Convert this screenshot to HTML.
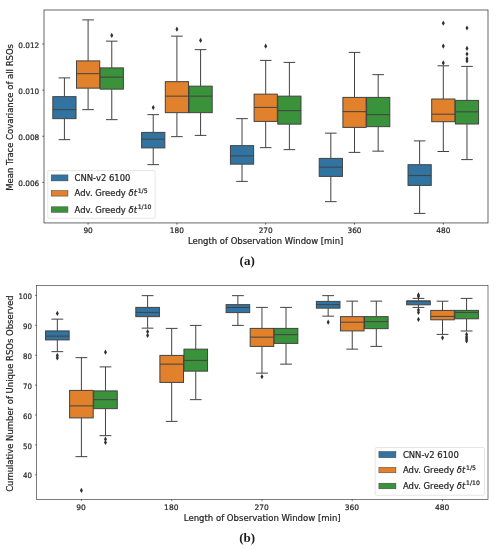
<!DOCTYPE html>
<html lang="en"><head><meta charset="utf-8"><title>Figure</title>
<style>html,body{margin:0;padding:0;background:#fff}svg{display:block}</style></head>
<body>
<svg width="499" height="550" viewBox="0 0 499 550" font-family='"DejaVu Sans", "Liberation Sans", sans-serif'>
<rect width="499" height="550" fill="#fff"/>
<rect x="44.0" y="10.0" width="444.00" height="212.95" fill="#fff" stroke="#1a1a1a" stroke-width="0.66"/>
<path d="M64.42 77.90V96.65M64.42 118.65V139.65M58.62 77.90H70.22M58.62 139.65H70.22" stroke="#424242" stroke-width="1.0" fill="none"/><rect x="52.82" y="96.65" width="23.21" height="22.00" fill="#3274a1" stroke="#424242" stroke-width="1.0"/><path d="M52.82 109.65H76.02" stroke="#424242" stroke-width="1.0"/>
<path d="M88.10 19.90V60.90M88.10 88.15V109.65M82.30 19.90H93.90M82.30 109.65H93.90" stroke="#424242" stroke-width="1.0" fill="none"/><rect x="76.50" y="60.90" width="23.21" height="27.25" fill="#e1812c" stroke="#424242" stroke-width="1.0"/><path d="M76.50 73.65H99.70" stroke="#424242" stroke-width="1.0"/>
<path d="M111.78 41.15V67.90M111.78 89.15V119.65M105.98 41.15H117.58M105.98 119.65H117.58" stroke="#424242" stroke-width="1.0" fill="none"/><rect x="100.18" y="67.90" width="23.21" height="21.25" fill="#3a923a" stroke="#424242" stroke-width="1.0"/><path d="M100.18 77.15H123.38" stroke="#424242" stroke-width="1.0"/><path d="M111.78 32.80L113.28 35.40L111.78 38.00L110.28 35.40Z" fill="#303030"/>
<path d="M153.22 114.65V132.40M153.22 147.90V164.65M147.42 114.65H159.02M147.42 164.65H159.02" stroke="#424242" stroke-width="1.0" fill="none"/><rect x="141.62" y="132.40" width="23.21" height="15.50" fill="#3274a1" stroke="#424242" stroke-width="1.0"/><path d="M141.62 139.15H164.82" stroke="#424242" stroke-width="1.0"/><path d="M153.22 105.00L154.72 107.60L153.22 110.20L151.72 107.60Z" fill="#303030"/>
<path d="M176.90 36.15V81.65M176.90 112.65V136.65M171.10 36.15H182.70M171.10 136.65H182.70" stroke="#424242" stroke-width="1.0" fill="none"/><rect x="165.30" y="81.65" width="23.21" height="31.00" fill="#e1812c" stroke="#424242" stroke-width="1.0"/><path d="M165.30 96.15H188.50" stroke="#424242" stroke-width="1.0"/><path d="M176.90 26.55L178.40 29.15L176.90 31.75L175.40 29.15Z" fill="#303030"/>
<path d="M200.58 49.65V86.15M200.58 112.65V135.40M194.78 49.65H206.38M194.78 135.40H206.38" stroke="#424242" stroke-width="1.0" fill="none"/><rect x="188.98" y="86.15" width="23.21" height="26.50" fill="#3a923a" stroke="#424242" stroke-width="1.0"/><path d="M188.98 96.15H212.18" stroke="#424242" stroke-width="1.0"/><path d="M200.58 37.80L202.08 40.40L200.58 43.00L199.08 40.40Z" fill="#303030"/>
<path d="M242.02 118.65V145.65M242.02 164.15V181.40M236.22 118.65H247.82M236.22 181.40H247.82" stroke="#424242" stroke-width="1.0" fill="none"/><rect x="230.42" y="145.65" width="23.21" height="18.50" fill="#3274a1" stroke="#424242" stroke-width="1.0"/><path d="M230.42 155.90H253.62" stroke="#424242" stroke-width="1.0"/>
<path d="M265.70 60.40V94.15M265.70 121.40V147.65M259.90 60.40H271.50M259.90 147.65H271.50" stroke="#424242" stroke-width="1.0" fill="none"/><rect x="254.10" y="94.15" width="23.21" height="27.25" fill="#e1812c" stroke="#424242" stroke-width="1.0"/><path d="M254.10 107.40H277.30" stroke="#424242" stroke-width="1.0"/><path d="M265.70 43.55L267.20 46.15L265.70 48.75L264.20 46.15Z" fill="#303030"/>
<path d="M289.38 62.40V96.15M289.38 124.15V149.65M283.58 62.40H295.18M283.58 149.65H295.18" stroke="#424242" stroke-width="1.0" fill="none"/><rect x="277.78" y="96.15" width="23.21" height="28.00" fill="#3a923a" stroke="#424242" stroke-width="1.0"/><path d="M277.78 110.65H300.98" stroke="#424242" stroke-width="1.0"/>
<path d="M330.82 133.15V158.40M330.82 176.40V201.65M325.02 133.15H336.62M325.02 201.65H336.62" stroke="#424242" stroke-width="1.0" fill="none"/><rect x="319.22" y="158.40" width="23.21" height="18.00" fill="#3274a1" stroke="#424242" stroke-width="1.0"/><path d="M319.22 167.15H342.42" stroke="#424242" stroke-width="1.0"/>
<path d="M354.50 52.40V97.40M354.50 127.40V152.40M348.70 52.40H360.30M348.70 152.40H360.30" stroke="#424242" stroke-width="1.0" fill="none"/><rect x="342.90" y="97.40" width="23.21" height="30.00" fill="#e1812c" stroke="#424242" stroke-width="1.0"/><path d="M342.90 111.65H366.10" stroke="#424242" stroke-width="1.0"/>
<path d="M378.18 74.65V97.40M378.18 126.65V151.15M372.38 74.65H383.98M372.38 151.15H383.98" stroke="#424242" stroke-width="1.0" fill="none"/><rect x="366.58" y="97.40" width="23.21" height="29.25" fill="#3a923a" stroke="#424242" stroke-width="1.0"/><path d="M366.58 114.65H389.78" stroke="#424242" stroke-width="1.0"/>
<path d="M419.62 140.90V164.70M419.62 185.40V213.40M413.82 140.90H425.42M413.82 213.40H425.42" stroke="#424242" stroke-width="1.0" fill="none"/><rect x="408.02" y="164.70" width="23.21" height="20.70" fill="#3274a1" stroke="#424242" stroke-width="1.0"/><path d="M408.02 175.60H431.22" stroke="#424242" stroke-width="1.0"/>
<path d="M443.30 65.80V99.00M443.30 121.70V151.50M437.50 65.80H449.10M437.50 151.50H449.10" stroke="#424242" stroke-width="1.0" fill="none"/><rect x="431.70" y="99.00" width="23.21" height="22.70" fill="#e1812c" stroke="#424242" stroke-width="1.0"/><path d="M431.70 114.20H454.90" stroke="#424242" stroke-width="1.0"/><path d="M443.30 20.60L444.80 23.20L443.30 25.80L441.80 23.20Z" fill="#303030"/><path d="M443.30 43.50L444.80 46.10L443.30 48.70L441.80 46.10Z" fill="#303030"/><path d="M443.30 60.30L444.80 62.90L443.30 65.50L441.80 62.90Z" fill="#303030"/>
<path d="M466.98 66.40V100.40M466.98 124.00V159.60M461.18 66.40H472.78M461.18 159.60H472.78" stroke="#424242" stroke-width="1.0" fill="none"/><rect x="455.38" y="100.40" width="23.21" height="23.60" fill="#3a923a" stroke="#424242" stroke-width="1.0"/><path d="M455.38 111.80H478.58" stroke="#424242" stroke-width="1.0"/><path d="M466.98 25.40L468.48 28.00L466.98 30.60L465.48 28.00Z" fill="#303030"/><path d="M466.98 45.80L468.48 48.40L466.98 51.00L465.48 48.40Z" fill="#303030"/><path d="M466.98 51.40L468.48 54.00L466.98 56.60L465.48 54.00Z" fill="#303030"/><path d="M466.98 56.20L468.48 58.80L466.98 61.40L465.48 58.80Z" fill="#303030"/><path d="M466.98 58.40L468.48 61.00L466.98 63.60L465.48 61.00Z" fill="#303030"/>
<path d="M88.10 222.95v1.7" stroke="#1a1a1a" stroke-width="0.66"/>
<text transform="translate(88.10 233.30) scale(0.985 1)" font-size="7.5" text-anchor="middle" fill="#262626" stroke="#262626" stroke-width="0.22">90</text>
<path d="M176.90 222.95v1.7" stroke="#1a1a1a" stroke-width="0.66"/>
<text transform="translate(176.90 233.30) scale(0.985 1)" font-size="7.5" text-anchor="middle" fill="#262626" stroke="#262626" stroke-width="0.22">180</text>
<path d="M265.70 222.95v1.7" stroke="#1a1a1a" stroke-width="0.66"/>
<text transform="translate(265.70 233.30) scale(0.985 1)" font-size="7.5" text-anchor="middle" fill="#262626" stroke="#262626" stroke-width="0.22">270</text>
<path d="M354.50 222.95v1.7" stroke="#1a1a1a" stroke-width="0.66"/>
<text transform="translate(354.50 233.30) scale(0.985 1)" font-size="7.5" text-anchor="middle" fill="#262626" stroke="#262626" stroke-width="0.22">360</text>
<path d="M443.30 222.95v1.7" stroke="#1a1a1a" stroke-width="0.66"/>
<text transform="translate(443.30 233.30) scale(0.985 1)" font-size="7.5" text-anchor="middle" fill="#262626" stroke="#262626" stroke-width="0.22">480</text>
<path d="M44.0 44.05h-1.7" stroke="#1a1a1a" stroke-width="0.66"/>
<text transform="translate(39.25 47.69) scale(0.978 1)" font-size="7.5" text-anchor="end" fill="#262626" stroke="#262626" stroke-width="0.22">0.012</text>
<path d="M44.0 90.15h-1.7" stroke="#1a1a1a" stroke-width="0.66"/>
<text transform="translate(39.25 93.79) scale(0.978 1)" font-size="7.5" text-anchor="end" fill="#262626" stroke="#262626" stroke-width="0.22">0.010</text>
<path d="M44.0 136.25h-1.7" stroke="#1a1a1a" stroke-width="0.66"/>
<text transform="translate(39.25 139.89) scale(0.978 1)" font-size="7.5" text-anchor="end" fill="#262626" stroke="#262626" stroke-width="0.22">0.008</text>
<path d="M44.0 182.4h-1.7" stroke="#1a1a1a" stroke-width="0.66"/>
<text transform="translate(39.25 186.04) scale(0.978 1)" font-size="7.5" text-anchor="end" fill="#262626" stroke="#262626" stroke-width="0.22">0.006</text>
<text transform="translate(265.65 244.20)" font-size="8.46" text-anchor="middle" fill="#262626" stroke="#262626" stroke-width="0.22">Length of Observation Window [min]</text>
<text transform="translate(13.00 117.38) rotate(-90)" font-size="8.46" text-anchor="middle" fill="#262626" stroke="#262626" stroke-width="0.22">Mean Trace Covariance of all RSOs</text>
<rect x="47.8" y="170.6" width="107.30" height="47.70" rx="1.2" fill="#fff" fill-opacity="0.8" stroke="#cccccc" stroke-width="0.5"/>
<rect x="51.2" y="174.9" width="16.75" height="6.00" fill="#3274a1" stroke="#424242" stroke-width="0.5"/>
<text transform="translate(74.60 180.98)" font-size="8.45" text-anchor="start" fill="#262626" stroke="#262626" stroke-width="0.22">CNN-v2 6100</text>
<rect x="51.2" y="190.6" width="16.75" height="5.50" fill="#e1812c" stroke="#424242" stroke-width="0.5"/>
<text transform="translate(74.60 196.43)" font-size="8.45" text-anchor="start" fill="#262626" stroke="#262626" stroke-width="0.22">Adv. Greedy <tspan font-style="oblique">δt</tspan><tspan font-size="6.17" dy="-3.6" dx="0.7">1/5</tspan></text>
<rect x="51.2" y="206.8" width="16.75" height="5.50" fill="#3a923a" stroke="#424242" stroke-width="0.5"/>
<text transform="translate(74.60 212.63)" font-size="8.45" text-anchor="start" fill="#262626" stroke="#262626" stroke-width="0.22">Adv. Greedy <tspan font-style="oblique">δt</tspan><tspan font-size="6.17" dy="-3.6" dx="0.7">1/10</tspan></text>
<text x="247.15" y="264.7" font-size="13" font-weight="bold" text-anchor="middle" fill="#1a1a1a" font-family='"Liberation Serif", serif'>(a)</text>
<rect x="36.6" y="285.6" width="451.40" height="213.80" fill="#fff" stroke="#1a1a1a" stroke-width="0.56"/>
<path d="M57.33 319.15V330.90M57.33 339.90V351.65M51.43 319.15H63.23M51.43 351.65H63.23" stroke="#424242" stroke-width="1.0" fill="none"/><rect x="45.54" y="330.90" width="23.59" height="9.00" fill="#3274a1" stroke="#424242" stroke-width="1.0"/><path d="M45.54 336.15H69.12" stroke="#424242" stroke-width="1.0"/><path d="M57.33 310.80L58.83 313.40L57.33 316.00L55.83 313.40Z" fill="#303030"/><path d="M57.33 352.80L58.83 355.40L57.33 358.00L55.83 355.40Z" fill="#303030"/><path d="M57.33 355.30L58.83 357.90L57.33 360.50L55.83 357.90Z" fill="#303030"/>
<path d="M81.40 357.65V390.40M81.40 417.90V456.65M75.50 357.65H87.30M75.50 456.65H87.30" stroke="#424242" stroke-width="1.0" fill="none"/><rect x="69.61" y="390.40" width="23.59" height="27.50" fill="#e1812c" stroke="#424242" stroke-width="1.0"/><path d="M69.61 405.90H93.19" stroke="#424242" stroke-width="1.0"/><path d="M81.40 487.80L82.90 490.40L81.40 493.00L79.90 490.40Z" fill="#303030"/>
<path d="M105.47 366.90V390.90M105.47 408.65V435.65M99.57 366.90H111.37M99.57 435.65H111.37" stroke="#424242" stroke-width="1.0" fill="none"/><rect x="93.68" y="390.90" width="23.59" height="17.75" fill="#3a923a" stroke="#424242" stroke-width="1.0"/><path d="M93.68 399.65H117.26" stroke="#424242" stroke-width="1.0"/><path d="M105.47 349.55L106.97 352.15L105.47 354.75L103.97 352.15Z" fill="#303030"/><path d="M105.47 436.55L106.97 439.15L105.47 441.75L103.97 439.15Z" fill="#303030"/><path d="M105.47 439.80L106.97 442.40L105.47 445.00L103.97 442.40Z" fill="#303030"/>
<path d="M147.61 295.65V307.40M147.61 316.65V328.15M141.71 295.65H153.51M141.71 328.15H153.51" stroke="#424242" stroke-width="1.0" fill="none"/><rect x="135.82" y="307.40" width="23.59" height="9.25" fill="#3274a1" stroke="#424242" stroke-width="1.0"/><path d="M135.82 312.40H159.40" stroke="#424242" stroke-width="1.0"/><path d="M147.61 329.05L149.11 331.65L147.61 334.25L146.11 331.65Z" fill="#303030"/><path d="M147.61 332.80L149.11 335.40L147.61 338.00L146.11 335.40Z" fill="#303030"/>
<path d="M171.68 328.40V355.40M171.68 382.40V421.40M165.78 328.40H177.58M165.78 421.40H177.58" stroke="#424242" stroke-width="1.0" fill="none"/><rect x="159.89" y="355.40" width="23.59" height="27.00" fill="#e1812c" stroke="#424242" stroke-width="1.0"/><path d="M159.89 364.15H183.47" stroke="#424242" stroke-width="1.0"/>
<path d="M195.75 325.40V349.15M195.75 371.15V399.65M189.85 325.40H201.65M189.85 399.65H201.65" stroke="#424242" stroke-width="1.0" fill="none"/><rect x="183.96" y="349.15" width="23.59" height="22.00" fill="#3a923a" stroke="#424242" stroke-width="1.0"/><path d="M183.96 360.40H207.54" stroke="#424242" stroke-width="1.0"/>
<path d="M237.89 295.65V304.65M237.89 312.60V325.40M231.99 295.65H243.79M231.99 325.40H243.79" stroke="#424242" stroke-width="1.0" fill="none"/><rect x="226.10" y="304.65" width="23.59" height="7.95" fill="#3274a1" stroke="#424242" stroke-width="1.0"/><path d="M226.10 307.50H249.68" stroke="#424242" stroke-width="1.0"/>
<path d="M261.96 307.40V328.40M261.96 346.40V373.15M256.06 307.40H267.86M256.06 373.15H267.86" stroke="#424242" stroke-width="1.0" fill="none"/><rect x="250.17" y="328.40" width="23.59" height="18.00" fill="#e1812c" stroke="#424242" stroke-width="1.0"/><path d="M250.17 337.15H273.75" stroke="#424242" stroke-width="1.0"/><path d="M261.96 374.05L263.46 376.65L261.96 379.25L260.46 376.65Z" fill="#303030"/>
<path d="M286.03 307.40V328.40M286.03 343.40V364.15M280.13 307.40H291.93M280.13 364.15H291.93" stroke="#424242" stroke-width="1.0" fill="none"/><rect x="274.24" y="328.40" width="23.59" height="15.00" fill="#3a923a" stroke="#424242" stroke-width="1.0"/><path d="M274.24 334.65H297.82" stroke="#424242" stroke-width="1.0"/>
<path d="M328.17 295.65V301.40M328.17 308.15V316.15M322.27 295.65H334.07M322.27 316.15H334.07" stroke="#424242" stroke-width="1.0" fill="none"/><rect x="316.38" y="301.40" width="23.59" height="6.75" fill="#3274a1" stroke="#424242" stroke-width="1.0"/><path d="M316.38 304.65H339.96" stroke="#424242" stroke-width="1.0"/><path d="M328.17 319.55L329.67 322.15L328.17 324.75L326.67 322.15Z" fill="#303030"/>
<path d="M352.24 301.15V316.65M352.24 330.90V349.15M346.34 301.15H358.14M346.34 349.15H358.14" stroke="#424242" stroke-width="1.0" fill="none"/><rect x="340.45" y="316.65" width="23.59" height="14.25" fill="#e1812c" stroke="#424242" stroke-width="1.0"/><path d="M340.45 322.15H364.03" stroke="#424242" stroke-width="1.0"/>
<path d="M376.31 301.15V316.65M376.31 328.65V346.40M370.41 301.15H382.21M370.41 346.40H382.21" stroke="#424242" stroke-width="1.0" fill="none"/><rect x="364.52" y="316.65" width="23.59" height="12.00" fill="#3a923a" stroke="#424242" stroke-width="1.0"/><path d="M364.52 321.65H388.10" stroke="#424242" stroke-width="1.0"/>
<path d="M418.45 298.40V301.00M418.45 304.80V307.40M412.55 298.40H424.35M412.55 307.40H424.35" stroke="#424242" stroke-width="1.0" fill="none"/><rect x="406.66" y="301.00" width="23.59" height="3.80" fill="#3274a1" stroke="#424242" stroke-width="1.0"/><path d="M406.66 301.00H430.24" stroke="#424242" stroke-width="1.0"/><path d="M418.45 292.30L419.95 294.90L418.45 297.50L416.95 294.90Z" fill="#303030"/><path d="M418.45 293.80L419.95 296.40L418.45 299.00L416.95 296.40Z" fill="#303030"/><path d="M418.45 307.40L419.95 310.00L418.45 312.60L416.95 310.00Z" fill="#303030"/><path d="M418.45 309.80L419.95 312.40L418.45 315.00L416.95 312.40Z" fill="#303030"/><path d="M418.45 316.80L419.95 319.40L418.45 322.00L416.95 319.40Z" fill="#303030"/>
<path d="M442.52 301.20V310.40M442.52 319.80V334.40M436.62 301.20H448.42M436.62 334.40H448.42" stroke="#424242" stroke-width="1.0" fill="none"/><rect x="430.73" y="310.40" width="23.59" height="9.40" fill="#e1812c" stroke="#424242" stroke-width="1.0"/><path d="M430.73 316.40H454.31" stroke="#424242" stroke-width="1.0"/><path d="M442.52 335.20L444.02 337.80L442.52 340.40L441.02 337.80Z" fill="#303030"/>
<path d="M466.59 298.40V310.40M466.59 318.80V331.00M460.69 298.40H472.49M460.69 331.00H472.49" stroke="#424242" stroke-width="1.0" fill="none"/><rect x="454.80" y="310.40" width="23.59" height="8.40" fill="#3a923a" stroke="#424242" stroke-width="1.0"/><path d="M454.80 312.40H478.38" stroke="#424242" stroke-width="1.0"/><path d="M466.59 331.80L468.09 334.40L466.59 337.00L465.09 334.40Z" fill="#303030"/><path d="M466.59 334.40L468.09 337.00L466.59 339.60L465.09 337.00Z" fill="#303030"/><path d="M466.59 336.40L468.09 339.00L466.59 341.60L465.09 339.00Z" fill="#303030"/><path d="M466.59 338.40L468.09 341.00L466.59 343.60L465.09 341.00Z" fill="#303030"/>
<path d="M81.40 499.4v1.7" stroke="#1a1a1a" stroke-width="0.56"/>
<text transform="translate(81.00 510.20)" font-size="7.5" text-anchor="middle" fill="#262626" stroke="#262626" stroke-width="0.22">90</text>
<path d="M171.68 499.4v1.7" stroke="#1a1a1a" stroke-width="0.56"/>
<text transform="translate(171.28 510.20)" font-size="7.5" text-anchor="middle" fill="#262626" stroke="#262626" stroke-width="0.22">180</text>
<path d="M261.96 499.4v1.7" stroke="#1a1a1a" stroke-width="0.56"/>
<text transform="translate(261.56 510.20)" font-size="7.5" text-anchor="middle" fill="#262626" stroke="#262626" stroke-width="0.22">270</text>
<path d="M352.24 499.4v1.7" stroke="#1a1a1a" stroke-width="0.56"/>
<text transform="translate(351.84 510.20)" font-size="7.5" text-anchor="middle" fill="#262626" stroke="#262626" stroke-width="0.22">360</text>
<path d="M442.52 499.4v1.7" stroke="#1a1a1a" stroke-width="0.56"/>
<text transform="translate(442.12 510.20)" font-size="7.5" text-anchor="middle" fill="#262626" stroke="#262626" stroke-width="0.22">480</text>
<path d="M36.6 295.4h-1.7" stroke="#1a1a1a" stroke-width="0.56"/>
<text transform="translate(31.90 299.04) scale(0.935 1)" font-size="7.5" text-anchor="end" fill="#262626" stroke="#262626" stroke-width="0.22">100</text>
<path d="M36.6 325.3h-1.7" stroke="#1a1a1a" stroke-width="0.56"/>
<text transform="translate(31.90 328.94) scale(0.935 1)" font-size="7.5" text-anchor="end" fill="#262626" stroke="#262626" stroke-width="0.22">90</text>
<path d="M36.6 355.2h-1.7" stroke="#1a1a1a" stroke-width="0.56"/>
<text transform="translate(31.90 358.84) scale(0.935 1)" font-size="7.5" text-anchor="end" fill="#262626" stroke="#262626" stroke-width="0.22">80</text>
<path d="M36.6 385.1h-1.7" stroke="#1a1a1a" stroke-width="0.56"/>
<text transform="translate(31.90 388.74) scale(0.935 1)" font-size="7.5" text-anchor="end" fill="#262626" stroke="#262626" stroke-width="0.22">70</text>
<path d="M36.6 415h-1.7" stroke="#1a1a1a" stroke-width="0.56"/>
<text transform="translate(31.90 418.64) scale(0.935 1)" font-size="7.5" text-anchor="end" fill="#262626" stroke="#262626" stroke-width="0.22">60</text>
<path d="M36.6 444.9h-1.7" stroke="#1a1a1a" stroke-width="0.56"/>
<text transform="translate(31.90 448.54) scale(0.935 1)" font-size="7.5" text-anchor="end" fill="#262626" stroke="#262626" stroke-width="0.22">50</text>
<path d="M36.6 474.8h-1.7" stroke="#1a1a1a" stroke-width="0.56"/>
<text transform="translate(31.90 478.44) scale(0.935 1)" font-size="7.5" text-anchor="end" fill="#262626" stroke="#262626" stroke-width="0.22">40</text>
<text transform="translate(262.20 521.30)" font-size="8.54" text-anchor="middle" fill="#262626" stroke="#262626" stroke-width="0.22">Length of Observation Window [min]</text>
<text transform="translate(12.50 393.55) rotate(-90)" font-size="8.46" text-anchor="middle" fill="#262626" stroke="#262626" stroke-width="0.22">Cumulative Number of Unique RSOs Observed</text>
<rect x="375.2" y="447.5" width="109.30" height="47.75" rx="1.2" fill="#fff" fill-opacity="0.8" stroke="#cccccc" stroke-width="0.5"/>
<rect x="378.9" y="451.5" width="17.00" height="6.20" fill="#3274a1" stroke="#424242" stroke-width="0.5"/>
<text transform="translate(402.90 457.68)" font-size="8.45" text-anchor="start" fill="#262626" stroke="#262626" stroke-width="0.22">CNN-v2 6100</text>
<rect x="378.9" y="467.3" width="17.00" height="5.50" fill="#e1812c" stroke="#424242" stroke-width="0.5"/>
<text transform="translate(402.90 473.13)" font-size="8.45" text-anchor="start" fill="#262626" stroke="#262626" stroke-width="0.22">Adv. Greedy <tspan font-style="oblique">δt</tspan><tspan font-size="6.17" dy="-3.6" dx="0.7">1/5</tspan></text>
<rect x="378.9" y="483.2" width="17.00" height="5.60" fill="#3a923a" stroke="#424242" stroke-width="0.5"/>
<text transform="translate(402.90 489.08)" font-size="8.45" text-anchor="start" fill="#262626" stroke="#262626" stroke-width="0.22">Adv. Greedy <tspan font-style="oblique">δt</tspan><tspan font-size="6.17" dy="-3.6" dx="0.7">1/10</tspan></text>
<text x="247.15" y="541.5" font-size="13" font-weight="bold" text-anchor="middle" fill="#1a1a1a" font-family='"Liberation Serif", serif'>(b)</text>
</svg>
</body></html>
